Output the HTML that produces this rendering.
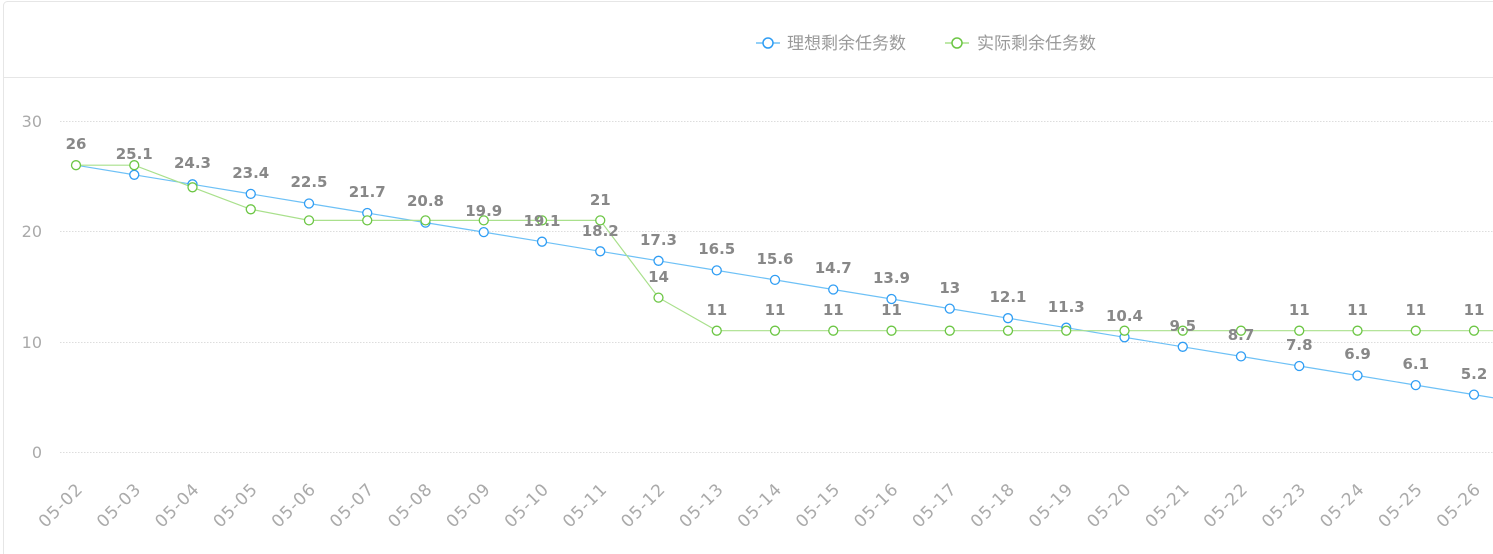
<!DOCTYPE html>
<html><head><meta charset="utf-8"><style>
html,body{margin:0;padding:0;background:#fff;}
svg{display:block;font-family:"Liberation Sans","Noto Sans CJK SC",sans-serif;}
.yl{fill:#aaa;font-size:16px;text-anchor:end;font-family:"DejaVu Sans",sans-serif;}
.xl{fill:#aaa;font-size:17px;text-anchor:end;font-family:"DejaVu Sans",sans-serif;letter-spacing:1px;}
.dl{fill:#888;font-size:15px;font-weight:bold;text-anchor:middle;font-family:"DejaVu Sans",sans-serif;}
</style></head><body>
<svg width="1493" height="554" viewBox="0 0 1493 554">
<rect x="3.5" y="1.5" width="1500" height="560" rx="4" fill="#fff" stroke="#e6e6e6"/>
<line x1="4" y1="77.5" x2="1493" y2="77.5" stroke="#e6e6e6"/>
<line x1="756" y1="43" x2="780" y2="43" stroke="#6ec1f6" stroke-width="1.5"/>
<circle cx="768" cy="43" r="5" fill="#fff" stroke="#2f9df4" stroke-width="1.5"/>
<text x="787" y="49" fill="#999" font-size="17">理想剩余任务数</text>
<line x1="945" y1="43" x2="969" y2="43" stroke="#a9e08c" stroke-width="1.5"/>
<circle cx="957" cy="43" r="5" fill="#fff" stroke="#6cc644" stroke-width="1.5"/>
<text x="977" y="49" fill="#999" font-size="17">实际剩余任务数</text>
<g stroke="#ddd" stroke-dasharray="1.5,1.5">
<line x1="60" y1="121.5" x2="1493" y2="121.5"/>
<line x1="60" y1="231.5" x2="1493" y2="231.5"/>
<line x1="60" y1="342.5" x2="1493" y2="342.5"/>
<line x1="60" y1="452.5" x2="1493" y2="452.5"/>
</g>
<text class="yl" x="42" y="127">30</text>
<text class="yl" x="42" y="237">20</text>
<text class="yl" x="42" y="348">10</text>
<text class="yl" x="42" y="458">0</text>
<g class="xl">
<text transform="translate(84,490) rotate(-45)">05-02</text>
<text transform="translate(142.25,490) rotate(-45)">05-03</text>
<text transform="translate(200.5,490) rotate(-45)">05-04</text>
<text transform="translate(258.75,490) rotate(-45)">05-05</text>
<text transform="translate(317,490) rotate(-45)">05-06</text>
<text transform="translate(375.25,490) rotate(-45)">05-07</text>
<text transform="translate(433.5,490) rotate(-45)">05-08</text>
<text transform="translate(491.75,490) rotate(-45)">05-09</text>
<text transform="translate(550,490) rotate(-45)">05-10</text>
<text transform="translate(608.25,490) rotate(-45)">05-11</text>
<text transform="translate(666.5,490) rotate(-45)">05-12</text>
<text transform="translate(724.75,490) rotate(-45)">05-13</text>
<text transform="translate(783,490) rotate(-45)">05-14</text>
<text transform="translate(841.25,490) rotate(-45)">05-15</text>
<text transform="translate(899.5,490) rotate(-45)">05-16</text>
<text transform="translate(957.75,490) rotate(-45)">05-17</text>
<text transform="translate(1016,490) rotate(-45)">05-18</text>
<text transform="translate(1074.25,490) rotate(-45)">05-19</text>
<text transform="translate(1132.5,490) rotate(-45)">05-20</text>
<text transform="translate(1190.75,490) rotate(-45)">05-21</text>
<text transform="translate(1249,490) rotate(-45)">05-22</text>
<text transform="translate(1307.25,490) rotate(-45)">05-23</text>
<text transform="translate(1365.5,490) rotate(-45)">05-24</text>
<text transform="translate(1423.75,490) rotate(-45)">05-25</text>
<text transform="translate(1482,490) rotate(-45)">05-26</text>
<text transform="translate(1540.25,490) rotate(-45)">05-27</text>
</g>
<polyline fill="none" stroke="#6ec1f6" stroke-width="1.2" points="76,165.2 134.25,174.8 192.5,184.3 250.75,193.9 309,203.5 367.25,213 425.5,222.6 483.75,232.1 542,241.7 600.25,251.3 658.5,260.8 716.75,270.4 775,279.9 833.25,289.5 891.5,299 949.75,308.6 1008,318.2 1066.25,327.7 1124.5,337.3 1182.75,346.8 1241,356.4 1299.25,366 1357.5,375.5 1415.75,385.1 1474,394.6 1532.25,404.2"/>
<polyline fill="none" stroke="#a9e08c" stroke-width="1.2" points="76,165.2 134.25,165.2 192.5,187.3 250.75,209.3 309,220.4 367.25,220.4 425.5,220.4 483.75,220.4 542,220.4 600.25,220.4 658.5,297.6 716.75,330.7 1532,330.7"/>
<g fill="#fff" stroke="#2f9df4" stroke-width="1.3">
<circle cx="134.25" cy="174.8" r="4.5"/><circle cx="192.5" cy="184.3" r="4.5"/><circle cx="250.75" cy="193.9" r="4.5"/><circle cx="309" cy="203.5" r="4.5"/><circle cx="367.25" cy="213" r="4.5"/><circle cx="425.5" cy="222.6" r="4.5"/><circle cx="483.75" cy="232.1" r="4.5"/><circle cx="542" cy="241.7" r="4.5"/><circle cx="600.25" cy="251.3" r="4.5"/><circle cx="658.5" cy="260.8" r="4.5"/><circle cx="716.75" cy="270.4" r="4.5"/><circle cx="775" cy="279.9" r="4.5"/><circle cx="833.25" cy="289.5" r="4.5"/><circle cx="891.5" cy="299" r="4.5"/><circle cx="949.75" cy="308.6" r="4.5"/><circle cx="1008" cy="318.2" r="4.5"/><circle cx="1066.25" cy="327.7" r="4.5"/><circle cx="1124.5" cy="337.3" r="4.5"/><circle cx="1182.75" cy="346.8" r="4.5"/><circle cx="1241" cy="356.4" r="4.5"/><circle cx="1299.25" cy="366" r="4.5"/><circle cx="1357.5" cy="375.5" r="4.5"/><circle cx="1415.75" cy="385.1" r="4.5"/><circle cx="1474" cy="394.6" r="4.5"/>
</g>
<g fill="#fff" stroke="#6cc644" stroke-width="1.3">
<circle cx="76" cy="165.2" r="4.5"/><circle cx="134.25" cy="165.2" r="4.5"/><circle cx="192.5" cy="187.3" r="4.5"/><circle cx="250.75" cy="209.3" r="4.5"/><circle cx="309" cy="220.4" r="4.5"/><circle cx="367.25" cy="220.4" r="4.5"/><circle cx="425.5" cy="220.4" r="4.5"/><circle cx="483.75" cy="220.4" r="4.5"/><circle cx="542" cy="220.4" r="4.5"/><circle cx="600.25" cy="220.4" r="4.5"/><circle cx="658.5" cy="297.6" r="4.5"/><circle cx="716.75" cy="330.7" r="4.5"/><circle cx="775" cy="330.7" r="4.5"/><circle cx="833.25" cy="330.7" r="4.5"/><circle cx="891.5" cy="330.7" r="4.5"/><circle cx="949.75" cy="330.7" r="4.5"/><circle cx="1008" cy="330.7" r="4.5"/><circle cx="1066.25" cy="330.7" r="4.5"/><circle cx="1124.5" cy="330.7" r="4.5"/><circle cx="1182.75" cy="330.7" r="4.5"/><circle cx="1241" cy="330.7" r="4.5"/><circle cx="1299.25" cy="330.7" r="4.5"/><circle cx="1357.5" cy="330.7" r="4.5"/><circle cx="1415.75" cy="330.7" r="4.5"/><circle cx="1474" cy="330.7" r="4.5"/>
</g>
<g class="dl">
<text x="76" y="149">26</text><text x="134.25" y="159">25.1</text><text x="192.5" y="168">24.3</text><text x="250.75" y="178">23.4</text><text x="309" y="187">22.5</text><text x="367.25" y="197">21.7</text><text x="425.5" y="206">20.8</text><text x="483.75" y="216">19.9</text><text x="542" y="226">19.1</text><text x="600.25" y="236">18.2</text><text x="658.5" y="245">17.3</text><text x="716.75" y="254">16.5</text><text x="775" y="264">15.6</text><text x="833.25" y="273">14.7</text><text x="891.5" y="283">13.9</text><text x="949.75" y="293">13</text><text x="1008" y="302">12.1</text><text x="1066.25" y="312">11.3</text><text x="1124.5" y="321">10.4</text><text x="1182.75" y="331">9.5</text><text x="1241" y="340">8.7</text><text x="1299.25" y="350">7.8</text><text x="1357.5" y="359">6.9</text><text x="1415.75" y="369">6.1</text><text x="1474" y="379">5.2</text>
<text x="600.25" y="205">21</text><text x="658.5" y="282">14</text>
<text x="716.75" y="315">11</text><text x="775" y="315">11</text><text x="833.25" y="315">11</text><text x="891.5" y="315">11</text><text x="1299.25" y="315">11</text><text x="1357.5" y="315">11</text><text x="1415.75" y="315">11</text><text x="1474" y="315">11</text>
</g>
</svg>
</body></html>
